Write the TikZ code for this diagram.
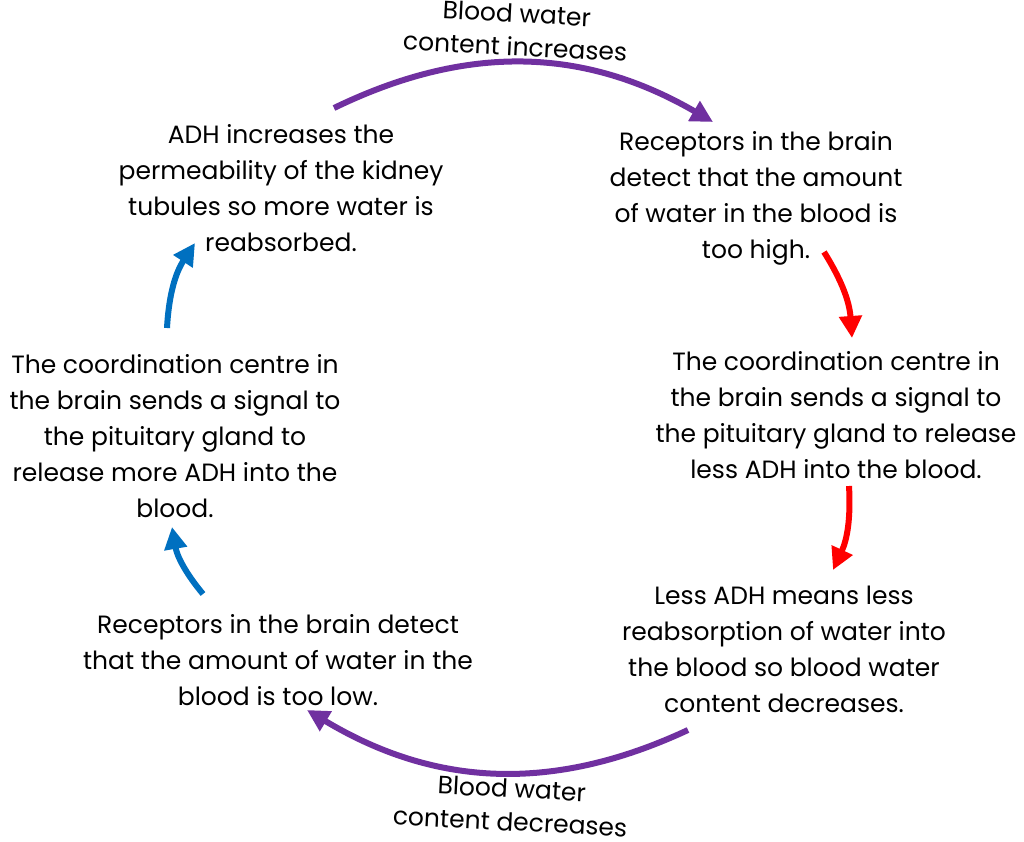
\documentclass[tikz,border=0pt]{standalone}
\usepackage{fontspec}
\setmainfont{Poppins}
\usetikzlibrary{arrows.meta}
\definecolor{cpurple}{HTML}{7030A0}
\definecolor{cred}{HTML}{FF0000}
\definecolor{cblue}{HTML}{0070C0}
\tikzset{
  txt/.style={align=center, inner sep=0pt, font=\fontsize{25}{36}\selectfont, text=black},
  lbl/.style={align=center, inner sep=0pt, font=\fontsize{25}{33}\selectfont, text=black, rotate=-3},
  arr/.style={line width=6pt, -{Triangle[length=22pt, width=22pt]}},
}
\begin{document}
\begin{tikzpicture}[x=1pt, y=-1pt]
\useasboundingbox (0,0) rectangle (1024,842);
\fill[white] (0,0) rectangle (1024,842);

\node[txt] (adh) at (281,188.5) {ADH increases the\\permeability of the kidney\\tubules so more water is\\reabsorbed.};
\node[txt] (rhigh) at (756,198) {Receptors in the brain\\detect that the amount\\of water in the blood is\\too high.};
\node[txt] (cless) at (836,415.5) {The coordination centre in\\the brain sends a signal to\\the pituitary gland to release\\less ADH into the blood.};
\node[txt] (less) at (784,649.5) {Less ADH means less\\reabsorption of water into\\the blood so blood water\\content decreases.};
\node[txt] (rlow) at (278,660) {Receptors in the brain detect\\that the amount of water in the\\blood is too low.};
\node[txt] (cmore) at (175,436) {The coordination centre in\\the brain sends a signal to\\the pituitary gland to\\release more ADH into the\\blood.};

\node[lbl] (inc) at (516,30) {Blood water\\content increases};
\node[lbl, text depth=0pt] (dec) at (511,805) {Blood water\\content decreases};

\coordinate (p1s) at (334,108); \coordinate (p1e) at (713,122);
\coordinate (r1s) at (824,252); \coordinate (r1e) at (852,338);
\coordinate (r2s) at (849,486); \coordinate (r2e) at (833,570);
\coordinate (p2s) at (688,730); \coordinate (p2e) at (307,710);
\coordinate (b1s) at (203,594); \coordinate (b1e) at (172,527);
\coordinate (b2s) at (167,328); \coordinate (b2e) at (195,243);

\draw[arr, cpurple] (p1s) to[bend left=28] (p1e);
\draw[arr, cred] (r1s) to[bend left=14] (r1e);
\draw[arr, cred] (r2s) to[bend left=14] (r2e);
\draw[arr, cpurple] (p2s) to[bend left=28] (p2e);
\draw[arr, cblue] (b1s) to[bend left=15] (b1e);
\draw[arr, cblue] (b2s) to[bend left=15] (b2e);
\end{tikzpicture}
\end{document}
